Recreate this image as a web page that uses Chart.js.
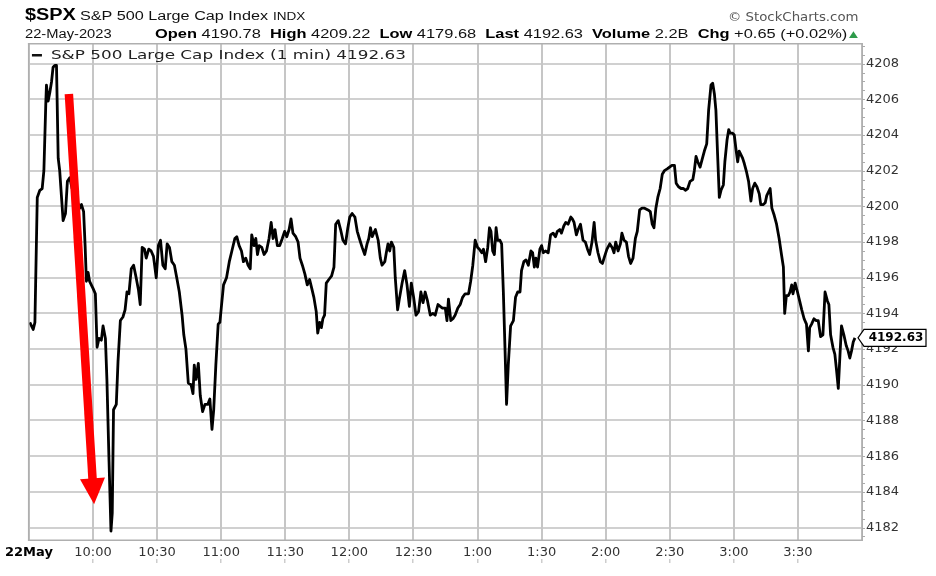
<!DOCTYPE html>
<html><head><meta charset="utf-8">
<script src="https://cdn.jsdelivr.net/npm/chart.js@4/dist/chart.umd.min.js"></script>
<style>
html,body{margin:0;padding:0;background:#fff;}
#wrap{position:relative;width:936px;height:576px;overflow:hidden;}
#c{position:absolute;left:0;top:0;}
.t{position:absolute;white-space:nowrap;font-family:"Liberation Sans",Arial,sans-serif;color:#111;transform-origin:0 50%;line-height:1;}
.t b{color:#000;}
</style></head><body>
<div id="wrap">
<canvas id="c" width="936" height="576"></canvas>
<div class="t fit" data-l="25" data-w="51" data-y="15" style="font-size:16px;font-weight:bold;color:#000">$SPX</div>
<div class="t fit" data-l="80" data-w="188" data-y="16.5" style="font-size:12.5px">S&amp;P 500 Large Cap Index</div>
<div class="t fit" data-l="273" data-w="32" data-y="16.5" style="font-size:11px">INDX</div>
<div class="t fit" data-l="25" data-w="87" data-y="34.5" style="font-size:12.5px">22-May-2023</div>
<div class="t fit" data-l="155" data-w="692" data-y="34.5" style="font-size:12.5px"><b>Open</b> 4190.78&nbsp; <b>High</b> 4209.22&nbsp; <b>Low</b> 4179.68&nbsp; <b>Last</b> 4192.63&nbsp; <b>Volume</b> 2.2B&nbsp; <b>Chg</b> +0.65 (+0.02%)</div>
<div class="t fit" data-l="849" data-w="9" data-y="34" style="font-size:9px;color:#2e9b4a;font-family:'DejaVu Sans'">▲</div>
<div class="t fit" data-l="728" data-w="131" data-y="16.7" style="font-size:13px;color:#555;font-family:'DejaVu Sans'">© StockCharts.com</div>
</div>
<script>
// ---- data ----
const minutes = [
0.4,2.0,2.8,3.9,5.1,6.2,7.0,7.9,8.2,9.0,9.8,10.6,11.3,12.1,12.9,13.7,14.4,15.2,16.0,17.1,
18.0,19.1,20.2,21.4,22.5,23.8,24.6,25.6,26.3,26.9,27.7,28.4,30.0,31.1,31.9,32.8,33.9,34.7,35.8,36.5,
37.5,38.4,39.0,39.6,40.9,41.7,42.8,44.0,45.0,45.9,46.8,47.9,49.0,50.2,51.3,52.1,53.0,54.1,54.9,56.1,
57.2,58.3,59.6,60.6,61.6,62.7,63.8,64.7,65.8,66.9,68.1,69.2,70.4,71.7,72.5,73.5,74.6,75.9,76.8,77.4,
78.2,79.3,80.2,81.3,82.4,83.7,84.7,85.7,86.5,87.5,88.6,89.4,90.2,91.1,92.5,93.8,95.0,96.4,97.3,98.4,
99.5,100.4,101.5,102.6,103.6,104.3,105.4,106.2,107.0,107.8,109.0,110.1,111.2,112.4,113.4,114.3,115.2,116.3,117.4,118.6,
119.7,120.7,121.8,122.7,123.6,124.9,126.0,126.9,
128.0,129.2,130.3,131.4,132.4,133.4,134.5,135.2,136.1,136.9,137.6,138.4,139.2,140.4,141.7,142.8,143.6,144.8,145.9,147.0,
148.2,149.3,150.2,151.3,152.6,153.7,154.7,156.0,157.2,158.3,159.1,159.9,160.7,161.4,162.2,163.5,164.5,165.3,166.6,167.3,
168.1,168.9,169.7,170.8,171.5,172.6,173.4,174.7,175.9,177.0,178.1,179.0,180.1,181.2,182.4,183.5,184.5,185.5,186.6,187.9,
189.1,190.2,191.5,192.5,193.6,194.9,195.7,196.4,197.5,198.5,199.5,200.8,201.9,203.0,204.2,205.8,206.8,207.8,208.9,210.0,
210.9,212.0,212.8,213.8,214.8,215.6,216.3,217.1,217.9,218.7,219.4,220.5,221.3,222.1,222.9,223.6,224.4,225.5,226.8,227.8,
228.8,229.9,230.6,231.7,232.7,233.8,235.0,235.8,236.6,237.3,238.1,239.2,240.0,240.8,241.8,243.1,244.2,245.4,246.5,247.4,
248.5,249.3,250.4,251.3,252.4,253.7,254.4,255.2,256.3,257.1,258.2,
259.4,260.5,261.5,262.5,263.6,264.6,265.3,266.4,267.5,268.5,269.5,270.6,271.9,273.0,273.9,274.7,275.8,276.9,277.6,278.6,
279.7,280.7,281.7,282.8,283.9,284.8,285.9,287.0,288.2,289.8,290.9,291.8,292.6,293.5,294.4,295.5,296.5,297.5,298.8,299.9,
301.0,302.2,303.0,304.1,305.3,306.4,307.3,308.4,309.5,310.8,311.5,312.3,313.1,314.2,315.1,316.2,317.3,318.2,319.3,320.1,
320.9,321.6,322.4,323.2,324.0,325.1,325.8,326.8,327.6,328.3,329.4,330.2,331.0,331.8,332.5,333.3,334.1,334.9,336.0,336.9,
338.0,338.8,339.8,340.8,341.9,342.6,343.7,344.7,345.4,346.2,347.0,347.8,348.9,350.0,351.2,352.3,353.2,353.8,354.6,355.5,
356.3,357.1,357.7,358.7,359.8,360.8,361.8,362.9,364.0,364.9,365.5,366.4,367.5,368.6,369.5,370.6,371.7,372.7,373.8,374.5,
375.3,376.4,377.3,378.1,378.9,379.7,380.4,381.5,382.6,383.5,384.3,385.1,385.9,386.7
];
const prices = [
4193.5,4193.1,4193.5,4200.5,4200.9,4201.0,4202.0,4205.8,4206.8,4205.9,4206.4,4207.0,4207.8,4207.9,4207.9,4202.7,4202.0,4200.6,4199.2,4199.6,
4201.4,4201.6,4201.0,4200.8,4200.3,4199.9,4200.1,4199.7,4197.8,4195.8,4196.3,4195.8,4195.4,4195.1,4192.1,4192.6,4192.5,4193.3,4192.6,4190.3,
4185.7,4181.8,4182.8,4188.6,4188.9,4191.3,4193.6,4193.8,4194.2,4195.2,4195.1,4196.5,4196.7,4196.0,4195.3,4194.5,4197.7,4197.6,4197.1,4197.6,
4197.5,4197.2,4196.0,4197.8,4198.1,4196.7,4196.5,4197.9,4197.7,4196.9,4196.7,4196.0,4195.2,4193.9,4192.8,4192.0,4190.1,4190.0,4189.5,4191.1,
4190.3,4191.2,4189.4,4188.5,4188.9,4188.9,4189.2,4187.5,4188.6,4191.1,4193.4,4193.5,4194.5,4195.6,4196.0,4196.9,4197.5,4198.2,4198.3,4197.8,
4197.5,4196.9,4197.1,4196.7,4196.5,4198.4,4197.8,4198.2,4197.3,4197.8,4197.7,4197.3,4197.5,4198.2,4199.1,4198.2,4198.7,4197.8,4197.8,4198.2,
4198.6,4198.3,4198.7,4199.3,4198.5,4198.3,4198.0,4197.1,
4196.7,4196.2,4195.6,4195.9,4195.4,4194.9,4194.1,4192.9,4193.5,4193.2,4193.7,4193.9,4195.7,4195.9,4196.1,4196.6,4199.0,4199.2,4198.7,4198.1,
4197.9,4198.8,4199.4,4199.6,4199.4,4198.6,4198.2,4197.7,4197.3,4197.9,4198.2,4198.8,4198.3,4198.5,4198.7,4198.1,4197.1,4196.7,4196.9,4197.4,
4197.9,4197.5,4198.0,4197.7,4196.0,4194.2,4194.8,4195.7,4196.4,4195.6,4194.4,4195.7,4194.9,4193.9,4194.1,4195.2,4194.6,4195.2,4194.7,4193.9,
4194.0,4193.9,4194.5,4194.4,4194.3,4194.3,4193.6,4194.8,4193.6,4193.7,4193.9,4194.3,4194.5,4194.9,4195.1,4195.1,4195.8,4196.7,4198.1,4197.7,
4197.6,4197.4,4197.6,4196.9,4197.7,4198.8,4198.6,4197.5,4197.3,4198.8,4198.1,4198.1,4197.9,4195.2,4191.9,4188.9,4191.1,4193.3,4193.6,4194.9,
4195.2,4195.2,4196.4,4196.9,4197.0,4196.7,4197.5,4197.4,4196.6,4197.1,4196.6,4197.6,4197.8,4197.4,4197.5,4197.4,4198.4,4198.5,4198.3,4198.6,
4198.7,4198.5,4198.9,4199.1,4199.0,4199.4,4199.3,4199.1,4198.4,4198.7,4199.0,
4198.1,4198.0,4197.6,4197.3,4198.0,4199.1,4198.1,4197.4,4196.9,4196.8,4197.2,4197.6,4197.9,4197.7,4197.4,4198.0,4197.5,4197.9,4198.5,4198.1,
4198.0,4197.2,4196.8,4197.1,4198.2,4198.6,4199.8,4199.9,4199.9,4199.8,4199.7,4199.0,4198.8,4199.9,4200.5,4201.0,4201.8,4202.0,4202.1,4202.2,
4202.3,4202.3,4201.3,4201.1,4201.0,4201.0,4200.9,4201.0,4201.4,4201.5,4202.0,4202.8,4202.5,4202.2,4202.6,4203.1,4203.5,4205.4,4206.8,4206.9,
4206.3,4205.4,4202.9,4200.5,4200.9,4201.2,4202.5,4203.7,4204.3,4204.1,4204.1,4204.0,4203.2,4202.5,4203.1,4202.9,4202.7,4202.4,4201.9,4201.4,
4200.3,4201.0,4201.3,4201.1,4200.7,4200.1,4200.1,4200.2,4200.6,4200.8,4201.0,4199.9,4199.5,4199.0,4198.2,4197.3,4196.6,4194.0,4195.0,4195.0,
4195.2,4195.6,4195.1,4195.7,4195.2,4194.7,4194.2,4193.7,4193.4,4191.9,4193.2,4193.4,4193.7,4193.6,4193.6,4192.7,4192.8,4195.2,4194.7,4194.5,
4192.8,4192.1,4191.7,4190.8,4189.8,4191.7,4193.3,4192.8,4192.2,4191.9,4191.5,4191.9,4192.4,4192.63
];
const xTickMinutes = [0,30,60,90,120,150,180,210,240,270,300,330,360,390];
const xTickLabels = ['22May','10:00','10:30','11:00','11:30','12:00','12:30','1:00','1:30','2:00','2:30','3:00','3:30',''];
const yTickValues = [4182,4184,4186,4188,4190,4192,4194,4196,4198,4200,4202,4204,4206,4208];
const legendLabel = 'S&P 500 Large Cap Index (1 min) 4192.63';
const arrowFrom = {x: 18.7, y: 4206.3};
const arrowTo = {x: 30.5, y: 4183.3};
const lastPrice = prices[prices.length - 1];

const points = minutes.map((m, i) => ({x: m, y: prices[i]}));

const decor = {
  id: 'decor',
  beforeDatasetsDraw(chart) {
    const c = chart.ctx, a = chart.chartArea, xs = chart.scales.x, ys = chart.scales.y;
    c.save();
    c.globalAlpha = 1;
    c.fillStyle = 'rgb(208,208,208)';
    yTickValues.forEach(v => {
      const y = Math.round(ys.getPixelForValue(v));
      c.fillRect(a.left, y - 1, a.right - a.left, 2);
    });
    c.fillStyle = 'rgb(198,198,198)';
    xTickMinutes.forEach(v => {
      const x = Math.round(xs.getPixelForValue(v));
      c.fillRect(x - 1, a.top, 2, a.bottom - a.top);
    });
    c.restore();
  },
  afterDatasetsDraw(chart) {
    const c = chart.ctx, a = chart.chartArea, xs = chart.scales.x, ys = chart.scales.y;
    c.save();
    // frame
    c.fillStyle = 'rgb(175,175,175)';
    c.fillRect(a.left - 1, a.top - 1, a.right - a.left + 2, 1.5);
    c.fillRect(a.left - 1, a.bottom - 0.5, a.right - a.left + 2, 1.5);
    c.fillRect(a.left - 1, a.top - 1, 1.5, a.bottom - a.top + 2);
    c.fillRect(a.right - 0.5, a.top - 1, 1.5, a.bottom - a.top + 2);
    // minor ticks on right axis
    c.fillStyle = 'rgb(170,170,170)';
    for (let v = Math.ceil(ys.min * 2) / 2; v <= ys.max; v += 0.5) {
      const y = Math.round(ys.getPixelForValue(v));
      c.fillRect(a.right, y, 3, 1);
    }
    // small marks below x labels
    c.fillStyle = 'rgb(205,205,205)';
    xTickMinutes.slice(1, -1).forEach(v => {
      const x = Math.round(xs.getPixelForValue(v));
      c.fillRect(x - 1, a.bottom + 19, 1.5, 4);
    });
    // legend
    c.fillStyle = '#111';
    c.fillRect(a.left + 3, a.top + 10, 10, 2.5);
    c.font = '13px "DejaVu Sans"'; c.fillStyle = '#222'; c.textBaseline = 'middle';
    const w = c.measureText(legendLabel).width;
    c.translate(a.left + 22, a.top + 11.5); c.scale(355 / w, 1);
    c.fillText(legendLabel, 0, 0);
    c.restore();
    // red arrow
    c.save();
    const x0 = xs.getPixelForValue(arrowFrom.x), y0 = ys.getPixelForValue(arrowFrom.y);
    const x1 = xs.getPixelForValue(arrowTo.x), y1 = ys.getPixelForValue(arrowTo.y);
    const dx = x1 - x0, dy = y1 - y0, len = Math.hypot(dx, dy), ux = dx / len, uy = dy / len;
    const headLen = 26, headHalf = 12.5;
    const bx = x1 - ux * headLen, by = y1 - uy * headLen;
    c.strokeStyle = '#ff0000'; c.lineWidth = 8.5; c.lineCap = 'butt';
    c.beginPath(); c.moveTo(x0, y0); c.lineTo(bx + ux * 1, by + uy * 1); c.stroke();
    c.fillStyle = '#ff0000';
    c.beginPath();
    c.moveTo(x1, y1);
    c.lineTo(bx - uy * headHalf, by + ux * headHalf);
    c.lineTo(bx + uy * headHalf, by - ux * headHalf);
    c.closePath(); c.fill();
    c.restore();
  },
  afterDraw(chart) {
    const c = chart.ctx, a = chart.chartArea, ys = chart.scales.y;
    const y = ys.getPixelForValue(lastPrice);
    const xl = a.right - 4, xb = a.right + 2, xr = 926, h = 8.5;
    c.save();
    c.beginPath();
    c.moveTo(xl, y); c.lineTo(xb, y - h); c.lineTo(xr, y - h); c.lineTo(xr, y + h); c.lineTo(xb, y + h); c.closePath();
    c.fillStyle = '#fff'; c.fill();
    c.strokeStyle = '#000'; c.lineWidth = 1.2; c.stroke();
    c.fillStyle = '#000'; c.font = 'bold 12px "DejaVu Sans"'; c.textBaseline = 'middle'; c.textAlign = 'center';
    c.fillText(lastPrice.toFixed(2), (xb + xr) / 2 + 1, y + 0.5);
    c.restore();
  }
};

new Chart(document.getElementById('c').getContext('2d'), {
  type: 'line',
  data: { datasets: [{ data: points, borderColor: '#000', borderWidth: 2.8, pointRadius: 0, tension: 0,
    borderJoinStyle: 'round', fill: false }] },
  options: {
    responsive: false, animation: false, devicePixelRatio: 1,
    layout: { padding: { left: 25.7, top: 44, right: 0, bottom: 0 } },
    plugins: { legend: { display: false }, tooltip: { enabled: false } },
    scales: {
      x: {
        type: 'linear', min: 0, max: 390,
        afterBuildTicks: s => { s.ticks = xTickMinutes.map(v => ({ value: v })); },
        afterFit: s => { s.height = 36; },
        ticks: {
          autoSkip: false, maxRotation: 0, padding: 5,
          callback: (v, i) => xTickLabels[i],
          font: c => ({ family: 'DejaVu Sans', size: 13, weight: c.index === 0 ? 'bold' : 'normal' }),
          color: c => c.index === 0 ? '#000' : '#333'
        },
        grid: { display: false, drawTicks: false },
        border: { display: false }
      },
      y: {
        position: 'right', min: 4181.3, max: 4209.1,
        afterBuildTicks: s => { s.ticks = yTickValues.map(v => ({ value: v })); },
        afterFit: s => { s.width = 74; },
        ticks: { padding: 4, callback: v => String(v), font: { family: 'DejaVu Sans', size: 13 }, color: '#333' },
        grid: { display: false, drawTicks: false },
        border: { display: false }
      }
    }
  },
  plugins: [decor]
});

document.querySelectorAll('.fit').forEach(el => {
  const nat = el.offsetWidth;
  el.style.left = el.dataset.l + 'px';
  el.style.top = (parseFloat(el.dataset.y) - el.offsetHeight / 2) + 'px';
  el.style.transform = 'scaleX(' + (parseFloat(el.dataset.w) / nat) + ')';
});
</script>
</body></html>
